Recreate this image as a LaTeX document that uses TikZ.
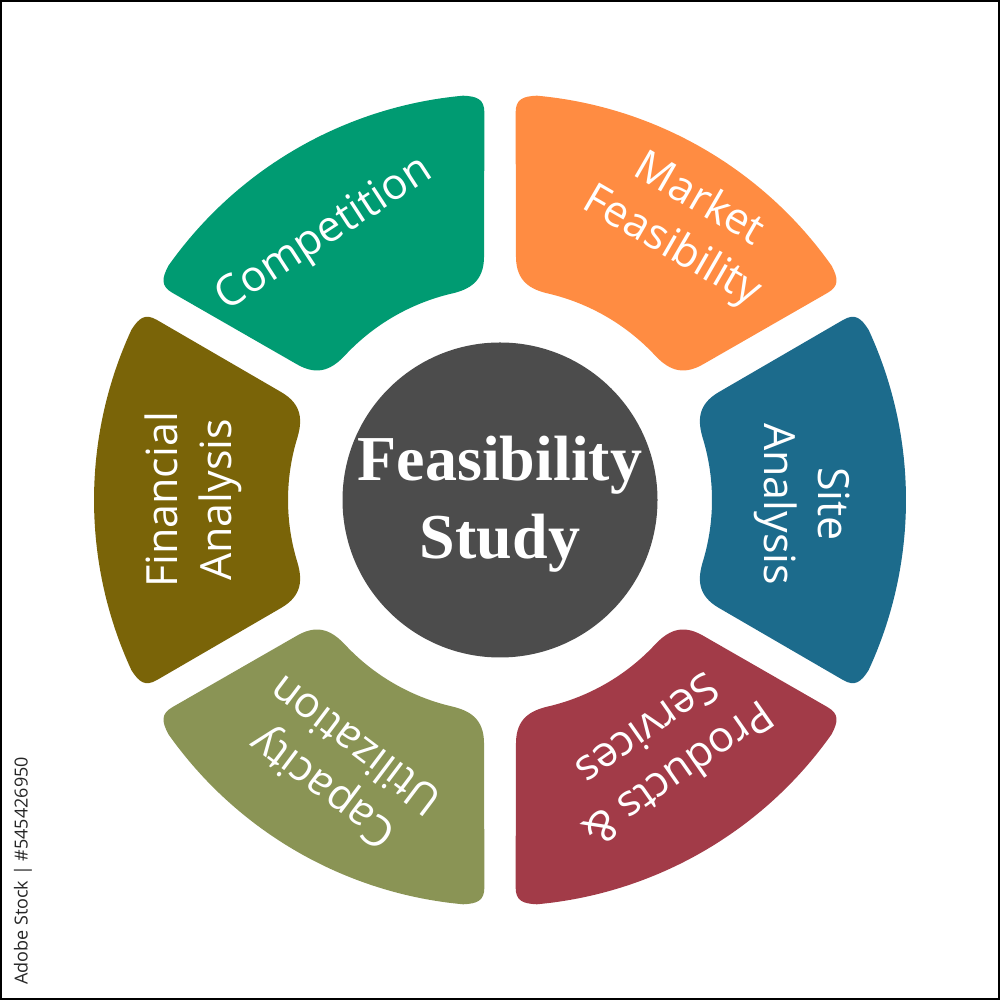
\documentclass[tikz,border=0pt]{standalone}
\usepackage{fontspec}
\setmainfont{Open Sans}
\newfontfamily\titlefont{Liberation Serif}
\usetikzlibrary{positioning}
\tikzset{
    seglabel/.style={text=white,align=center,font=\fontsize{43}{54}\selectfont},
    centerlabel/.style={text=white,align=center,font=\titlefont\bfseries\fontsize{64}{78}\selectfont}
}
\begin{document}
\begin{tikzpicture} [x=1pt,y=1pt]
    \useasboundingbox (0,0) rectangle (1000,1000);
    \node[draw=black,line width=2pt,minimum size=998pt,inner sep=0pt] (frame) at (500,500) {};
    % six segments, built pointing east
    \foreach \ang/\col in {0/1C6B8C,60/FF8C42,120/009B72,180/7A6408,240/8A9455,300/A23B48} {
        \definecolor{segcol}{HTML}{\col}
        \fill[segcol,shift={(500,500)},rotate=\ang]
            (219,108) -- (343,180) .. controls (355,187) and (361,182) .. (24.8:406)
            arc[start angle=24.8,end angle=-24.8,radius=406]
            .. controls (361,-182) and (355,-187) .. (343,-180) -- (219,-108)
            .. controls (197.3,-95.5) and (197.3,-79) .. (-16.5:212)
            arc[start angle=-16.5,end angle=16.5,radius=212]
            .. controls (197.3,79) and (197.3,95.5) .. cycle;
    }
    \node[circle,fill=black!70,minimum size=315pt,inner sep=0pt] (hub) at (500,500) {};
    \node[centerlabel] (hubtext) at (500,496) {Feasibility\\Study};
    \node[seglabel,rotate=-90] (site) at (802,496) {Site\\Analysis};
    \node[seglabel,rotate=-30] (market) at (685,776) {Market\\Feasibility};
    \node[seglabel,rotate=33] (comp) at (325,765) {Competition};
    \node[seglabel,rotate=90] (fin) at (193,500) {Financial\\Analysis};
    \node[seglabel,rotate=143] (cap) at (338,232) {Capacity\\Utilization};
    \node[seglabel,rotate=215] (prod) at (664,247) {Products \&\\Services};
    \node[rotate=90,text=black!85,font=\fontsize{18}{20}\selectfont] (stock) at (23,129) {Adobe Stock | \#545426950};
\end{tikzpicture}
\end{document}
